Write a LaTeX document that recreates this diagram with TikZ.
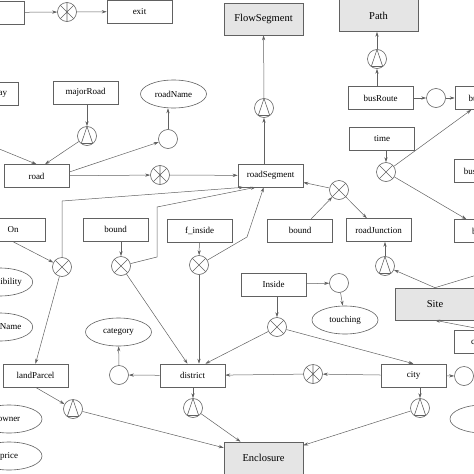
\documentclass[tikz,border=0pt]{standalone}
\usepackage{fontspec}
\setmainfont{Liberation Serif}
\usetikzlibrary{shapes.geometric,arrows.meta}

\definecolor{lc}{gray}{0.38}
\definecolor{supfill}{gray}{0.9}

\begin{document}
\begin{tikzpicture}[x=1pt, y=-1pt,
                >={Stealth[length=5pt,width=3.2pt]},
                ln/.style={->, draw=lc, line width=0.5pt},
                ent/.style={draw=lc, line width=0.6pt, minimum width=65pt,
                            minimum height=23pt, inner sep=1pt,
                            font=\fontsize{9}{10}\selectfont},
                sup/.style={ent, fill=supfill, minimum width=79pt,
                            minimum height=32pt,
                            font=\fontsize{10.5}{12}\selectfont},
                attr/.style={ellipse, draw=lc, line width=0.6pt,
                            minimum width=66pt, minimum height=28pt,
                            inner sep=1pt, font=\fontsize{9}{10}\selectfont},
                rel/.style={circle, draw=lc, line width=0.6pt,
                            minimum size=19pt, inner sep=0pt},
                xrel/.style={rel, path picture={
                    \draw[lc] (path picture bounding box.north west) -- (path picture bounding box.south east)
                              (path picture bounding box.north east) -- (path picture bounding box.south west);}},
                srel/.style={rel, path picture={
                    \draw[lc] (path picture bounding box.north west) -- (path picture bounding box.south east)
                              (path picture bounding box.north east) -- (path picture bounding box.south west)
                              (path picture bounding box.north) -- (path picture bounding box.south);}},
                trel/.style={rel, path picture={
                    \draw[lc] (path picture bounding box.north)
                        -- ([xshift=-5.7pt,yshift=2pt]path picture bounding box.south)
                        -- ([xshift=5.7pt,yshift=2pt]path picture bounding box.south) -- cycle;}}]
    \useasboundingbox (0,0) rectangle (474,474);
    \clip (0,0) rectangle (474,474);

    % top row
    \node[ent] (entry) at (-8.5,12.5) {};
    \node[srel] (sx) at (67,12) {};
    \node[ent] (exit) at (139.5,11.5) {exit};
    \node[sup] (flow) at (263.5,19) {FlowSegment};
    \node[sup] (path) at (378.5,15.5) {Path};

    % bus part
    \node[trel] (tp) at (377,59) {};
    \node[ent] (busroute) at (380.5,98) {busRoute};
    \node[rel] (cb) at (436,98) {};
    \node[ent] (busstation) at (487.5,98) {busStation};
    \node[ent] (time) at (382,138.5) {time};
    \node[xrel] (xt) at (386,172) {};
    \node[ent] (busschedule) at (486.5,171) {busSchedule};
    \node[ent] (busline) at (486.5,231) {busLine};

    % roads
    \node[ent, anchor=east] (express) at (19,94) {expressway};
    \node[ent] (major) at (85.5,92.5) {majorRoad};
    \node[attr] (roadname) at (173.5,94) {roadName};
    \node[trel] (tm) at (87,136) {};
    \node[rel] (cr) at (168,139) {};
    \node[ent] (road) at (36.5,176) {road};
    \node[srel] (sr) at (160,175) {};
    \node[trel] (tf) at (264,108) {};
    \node[ent] (roadseg) at (270.5,175.5) {roadSegment};
    \node[xrel] (xj) at (339,190) {};
    \node[ent] (boundr) at (300,230.5) {bound};
    \node[ent] (junction) at (378.5,230) {roadJunction};
    \node[trel] (tj) at (385,266) {};
    \coordinate (roadin) at (-30,137);

    % relations below the roads
    \node[ent, anchor=east] (on) at (46,230) {On};
    \node[ent] (boundl) at (115.5,229.5) {bound};
    \node[ent] (finside) at (199.5,230.5) {f\_inside};
    \node[xrel] (xo) at (62,267) {};
    \node[xrel] (xb) at (121,266) {};
    \node[xrel] (xf) at (199,265) {};
    \coordinate (oA) at (62,201);
    \coordinate (bA) at (157,257);
    \coordinate (bB) at (157,207);
    \coordinate (fA) at (247,237);

    % sites
    \node[sup] (site) at (435,304) {Site};
    \coordinate (siteout) at (510,265);
    \node[ent] (cityarea) at (486.5,342) {cityArea};
    \node[ent] (inside) at (273.5,284.5) {Inside};
    \node[rel] (ci) at (339,283) {};
    \node[attr] (touching) at (345,320) {touching};
    \node[xrel] (xi) at (277,327) {};

    % parcels, districts, cities
    \node[attr, anchor=east] (access) at (33,282) {accessibility};
    \node[attr, anchor=east] (pname) at (33,327) {parcelName};
    \node[attr] (owner) at (9,419) {owner};
    \node[attr] (price) at (9,456) {price};
    \node[ent] (parcel) at (35.5,375.5) {landParcel};
    \node[trel] (tl) at (73,409) {};
    \node[attr] (category) at (118.5,332) {category};
    \node[rel] (cd) at (119,375) {};
    \node[ent] (district) at (192.5,375.5) {district};
    \node[trel] (td) at (193,408) {};
    \node[srel] (sd) at (313,374) {};
    \node[ent] (city) at (413.5,375.5) {city};
    \node[rel] (cc) at (464,376) {};
    \node[attr] (cityattr) at (483,419) {};
    \node[trel] (tc) at (420,408) {};
    \node[sup] (encl) at (263.5,458) {Enclosure};

    % connectors
    \draw[ln] (entry) -- (sx);
    \draw[ln] (sx) -- (exit);
    \draw[ln] (tp |- busroute.north) -- (tp);
    \draw[ln] (tp) -- (tp |- path.south);
    \draw[ln] (busroute) -- (cb);
    \draw[ln] (cb) -- (busstation);
    \draw[ln] (xt |- time.south) -- (xt);
    \draw[ln] (xt) -- (busstation);
    \draw[ln] (xt) -- (busline);

    \draw[ln] (roadin) -- (road.north);
    \draw[ln] (tm |- major.south) -- (tm);
    \draw[ln] (tm) -- ([xshift=8.5pt]road.north);
    \draw[ln] ([yshift=4pt]road.east) -- (cr);
    \draw[ln] (cr) -- (cr |- roadname.south);
    \draw[ln] (road) -- (sr);
    \draw[ln] (sr) -- (roadseg);
    \draw[ln] (tf |- roadseg.north) -- (tf);
    \draw[ln] (tf) -- (flow);
    \draw[ln] (xj) -- (roadseg);
    \draw[ln] (xj) -- (junction);
    \draw[ln] (boundr) -- (xj);
    \draw[ln] (tj) -- (tj |- junction.south);
    \draw[ln] (site.north) -- (tj);
    \draw[draw=lc, line width=0.5pt] (site.north) -- (siteout);
    \draw[ln] (cityarea.north) -- (site.south);

    \draw[ln] (on.south) -- (xo);
    \draw[ln] (xo) -- (parcel.north);
    \draw[ln] (xo) -- (oA) -- ([xshift=6pt]roadseg.south west);
    \draw[ln] (xb |- boundl.south) -- (xb);
    \draw[ln] (xb) -- ([xshift=-5pt]district.north);
    \draw[ln] (xb) -- (bA) -- (bB) -- ([xshift=18pt]roadseg.south west);
    \draw[ln] (finside) -- (xf);
    \draw[ln] (xf) -- (xf |- district.north);
    \draw[ln] (xf) -- (fA) -- ([xshift=26pt]roadseg.south west);

    \draw[ln] (inside) -- (ci);
    \draw[ln] (ci) -- (touching);
    \draw[ln] (xi |- inside.south) -- (xi);
    \draw[ln] (xi) -- (city.north);
    \draw[ln] (xi) -- ([xshift=-20pt]district.north east);

    \draw[ln] (parcel.south) -- (tl);
    \draw[ln] (tl) -- (encl);
    \draw[ln] (district) -- (cd);
    \draw[ln] (cd) -- (category);
    \draw[ln] (td |- district.south) -- (td);
    \draw[ln] (td) -- (encl);
    \draw[ln] (city) -- (sd);
    \draw[ln] (sd) -- (district);
    \draw[ln] (city) -- (cc);
    \draw[ln] (tc |- city.south) -- (tc);
    \draw[ln] (tc) -- (encl);
\end{tikzpicture}
\end{document}
